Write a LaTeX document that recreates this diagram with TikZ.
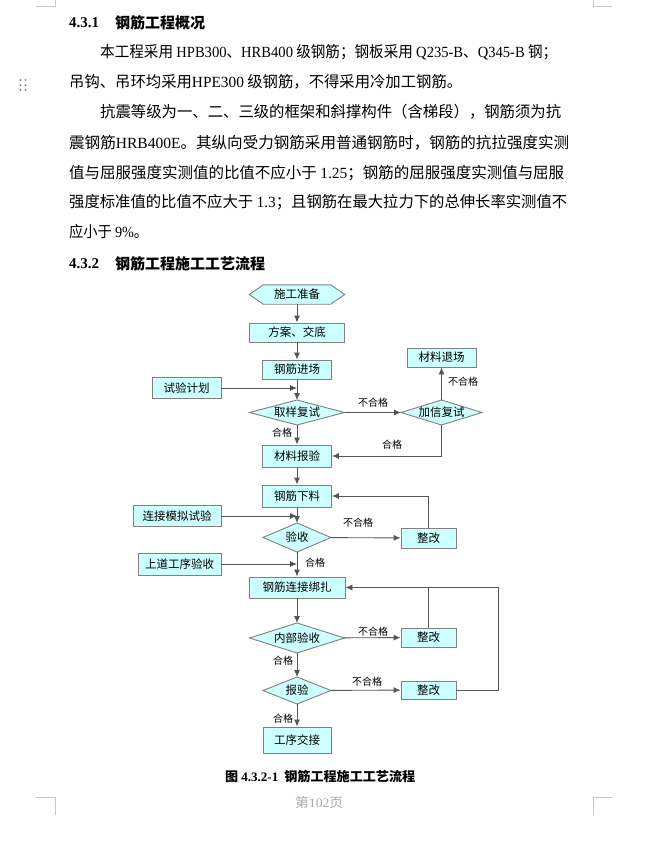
\documentclass[tikz,border=0pt]{standalone}
\usepackage{fontspec}
\usepackage{graphicx}
\setmainfont{Noto Sans CJK SC}
\newfontfamily\latf{Liberation Serif}
\usetikzlibrary{shapes.geometric,arrows.meta,backgrounds}
\definecolor{boxfill}{HTML}{CCFFFF}
\definecolor{boxline}{HTML}{808080}
\definecolor{arr}{HTML}{555555}
\definecolor{cornermark}{HTML}{C8C8C8}
\definecolor{pgnum}{HTML}{A8A8A8}
\definecolor{handle}{HTML}{8A8A8A}
\newcommand\LL[1]{{\latf #1}}
\newcommand\fitw[2]{\resizebox{#1pt}{\height}{#2}}
\newcommand\dtext[1]{\smash{\makebox[0pt]{\raisebox{-0.38em}{#1}}}}
\begin{document}
\begin{tikzpicture}[x=1pt,y=-1pt,
  box/.style={draw=boxline,fill=boxfill,line width=0.9pt,inner sep=0pt,font=\fontsize{11.5}{12}\selectfont},
  dia/.style={diamond,draw=boxline,fill=boxfill,line width=0.9pt,inner sep=0pt,outer sep=0pt,font=\fontsize{11.5}{12}\selectfont},
  lab/.style={font=\fontsize{10}{10}\selectfont,inner sep=0pt},
  con/.style={draw=arr,line width=0.9pt},
  arrow/.style={con,-{Latex[length=7pt,width=6pt]}},
  body/.style={anchor=west,inner sep=0pt,font=\fontsize{15.5}{16}\selectfont},
  head/.style={anchor=west,inner sep=0pt,font=\fontsize{15}{16}\selectfont\bfseries},
  cmark/.style={draw=cornermark,line width=0.8pt},
]
\path[use as bounding box] (0,0) rectangle (645,850);

% corner marks
\draw[cmark] (36,6) -- (55,6) -- (55,0);
\draw[cmark] (612,6) -- (593,6) -- (593,0);
\draw[cmark] (36,797) -- (55,797) -- (55,815);
\draw[cmark] (612,797) -- (593,797) -- (593,815);

% drag handle
\foreach \hx in {20.5,25.5} \foreach \hy in {80,85,90} \fill[handle] (\hx,\hy) circle (1.2);

% text
\node[head] (h1n) at (69,23) {\LL{\bfseries 4.3.1}};
\node[head] (h1t) at (115,23) {钢筋工程概况};
\node[body] (l1) at (100,52) {\fitw{457}{本工程采用 \LL{HPB300}、\LL{HRB400} 级钢筋；钢板采用 \LL{Q235-B}、\LL{Q345-B} 钢；}};
\node[body] (l2) at (69,82) {\fitw{393}{吊钩、吊环均采用\LL{HPE300} 级钢筋，不得采用冷加工钢筋。}};
\node[body] (l3) at (100,112) {\fitw{461}{抗震等级为一、二、三级的框架和斜撑构件（含梯段），钢筋须为抗}};
\node[body] (l4) at (69,143) {\fitw{500}{震钢筋\LL{HRB400E}。其纵向受力钢筋采用普通钢筋时，钢筋的抗拉强度实测}};
\node[body] (l5) at (69,173) {\fitw{495}{值与屈服强度实测值的比值不应小于 \LL{1.25}；钢筋的屈服强度实测值与屈服}};
\node[body] (l6) at (69,202) {\fitw{498}{强度标准值的比值不应大于 \LL{1.3}；且钢筋在最大拉力下的总伸长率实测值不}};
\node[body] (l7) at (69,232) {\fitw{79}{应小于 \LL{9\%}。}};
\node[head] (h2n) at (69,264) {\LL{\bfseries 4.3.2}};
\node[head] (h2t) at (115,264) {钢筋工程施工工艺流程};

% flowchart
\node[inner sep=0pt,minimum width=95,minimum height=19,font=\fontsize{11.5}{12}\selectfont] (prep) at (297,294.5) {施工准备};
\begin{scope}[on background layer]
\filldraw[draw=boxline,fill=boxfill,line width=0.9pt] (prep.west) -- ([xshift=14pt]prep.north west) -- ([xshift=-14pt]prep.north east) -- (prep.east) -- ([xshift=-14pt]prep.south east) -- ([xshift=14pt]prep.south west) -- cycle;
\end{scope}
\node[box,minimum width=95,minimum height=19] (plan) at (297,332.5) {方案、交底};
\node[box,minimum width=69,minimum height=19] (arrive) at (297,369.5) {钢筋进场};
\node[box,minimum width=69,minimum height=21] (testplan) at (186.5,388) {试验计划};
\node[dia,minimum width=95,minimum height=25] (sample) at (297,412.5) {\dtext{取样复试}};
\node[dia,minimum width=81,minimum height=25] (double) at (441.5,412.5) {\dtext{加信复试}};
\node[box,minimum width=69,minimum height=19] (retreat) at (441.5,357.5) {材料退场};
\node[box,minimum width=69,minimum height=22] (report) at (297,456) {材料报验};
\node[box,minimum width=69,minimum height=22] (cut) at (297,496) {钢筋下料};
\node[box,minimum width=88,minimum height=21] (simtest) at (177,516) {连接模拟试验};
\node[dia,minimum width=68,minimum height=29] (accept) at (297,537.5) {\dtext{验收}};
\node[box,minimum width=55,minimum height=20] (fix1) at (428.5,538) {整改};
\node[box,minimum width=83,minimum height=22] (prevacc) at (179.5,564) {上道工序验收};
\node[box,minimum width=96,minimum height=21] (tie) at (297,587.5) {钢筋连接绑扎};
\node[dia,minimum width=95,minimum height=30] (internal) at (297,638) {\dtext{内部验收}};
\node[box,minimum width=55,minimum height=19] (fix2) at (428.5,637.5) {整改};
\node[dia,minimum width=68,minimum height=27] (inspect) at (297,690.5) {\dtext{报验}};
\node[box,minimum width=55,minimum height=18] (fix3) at (428.5,690) {整改};
\node[box,minimum width=68,minimum height=26] (handover) at (297,740) {工序交接};

\coordinate (m1) at (297,388);
\coordinate (m2) at (297,516);
\coordinate (m3) at (297,564);
\coordinate (fbt) at (498,587.5);
\coordinate (fbb) at (498,690);

\draw[arrow] (prep) -- (plan);
\draw[arrow] (plan) -- (arrive);
\draw[arrow] (arrive) -- (sample);
\draw[arrow] (testplan.east) -- (m1);
\draw[arrow] (sample) -- (double);
\draw[arrow] (double) -- (retreat);
\draw[arrow] (sample) -- (report);
\draw[arrow] (double.south) |- (report.east);
\draw[arrow] (report) -- (cut);
\draw[arrow] (cut) -- (accept);
\draw[arrow] (simtest.east) -- (m2);
\draw[arrow] (accept) -- (fix1);
\draw[arrow] (fix1.north) |- (cut.east);
\draw[arrow] (accept) -- (tie);
\draw[arrow] (prevacc.east) -- (m3);
\draw[arrow] (tie) -- (internal);
\draw[arrow] (internal) -- (fix2);
\draw[con] (fix2.north) -- (fix2.north |- tie.east);
\draw[arrow] (internal) -- (inspect);
\draw[arrow] (inspect) -- (fix3);
\draw[arrow] (fix3.east) -- (fbb) -- (fbt) -- (tie.east);
\draw[arrow] (inspect) -- (handover);

\node[lab] (t1) at (373,403) {不合格};
\node[lab] (t2) at (463,382) {不合格};
\node[lab] (t3) at (282,433) {合格};
\node[lab] (t4) at (392,445) {合格};
\node[lab] (t5) at (358,523) {不合格};
\node[lab] (t6) at (315,563) {合格};
\node[lab] (t7) at (373,632) {不合格};
\node[lab] (t8) at (283,661) {合格};
\node[lab] (t9) at (367,682) {不合格};
\node[lab] (t10) at (283,719) {合格};

% caption and page number
\node[anchor=west,inner sep=0pt,font=\fontsize{13}{14}\selectfont\bfseries] (cap) at (225,777) {\fitw{190}{图 \LL{\bfseries 4.3.2-1}\hspace{6pt}钢筋工程施工工艺流程}};
\node[anchor=west,inner sep=0pt,font=\fontsize{13}{14}\selectfont,text=pgnum] (pg) at (295,803) {\fitw{48}{第\LL{102}页}};
\end{tikzpicture}
\end{document}
